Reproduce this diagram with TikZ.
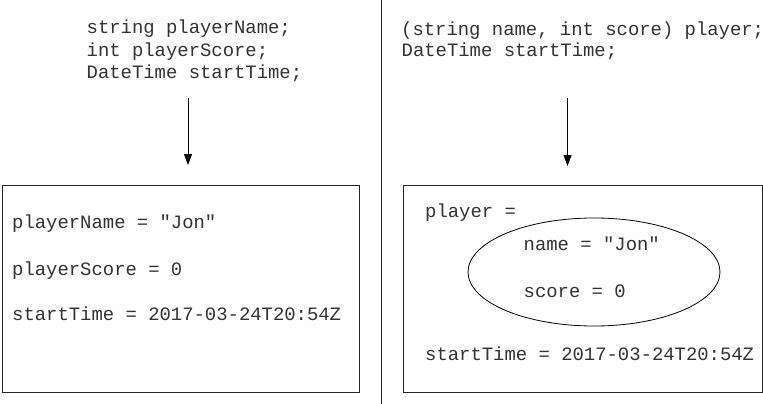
\documentclass[tikz,border=0pt]{standalone}
\usepackage{fontspec}
\setmonofont{Liberation Mono}
\usetikzlibrary{arrows.meta}
\tikzset{
  code/.style={font=\ttfamily\fontsize{18.9}{22}\selectfont, inner sep=0pt, anchor=base west, text=black!80},
  framebox/.style={draw=black!85, line width=0.9pt, inner sep=0pt},
  flow/.style={draw=black, line width=0.9pt, -{Triangle[length=11pt,width=8pt]}},
}
\begin{document}
\begin{tikzpicture}[x=1pt,y=-1pt]
\useasboundingbox (0,0) rectangle (763,404);
\fill[white] (0,0) rectangle (763,404);
% divider
\coordinate (dtop) at (381.5,0);
\coordinate (dbot) at (381.5,404);
\draw[black!85, line width=0.9pt] (dtop) -- (dbot);
% left declarations
\node[code] (l1) at (86.5,34) {string playerName;};
\node[code] (l2) at (86.5,56.5) {int playerScore;};
\node[code] (l3) at (86.5,78.5) {DateTime startTime;};
% right declarations
\node[code] (r1) at (401,35.5) {(string name, int score) player;};
\node[code] (r2) at (401.5,57) {DateTime startTime;};
% arrows
\coordinate (la) at (188,98);
\coordinate (lb) at (188,165);
\coordinate (ra) at (567.5,98);
\coordinate (rb) at (567.5,166);
\draw[flow] (la) -- (lb);
\draw[flow] (ra) -- (rb);
% boxes
\node[framebox, minimum width=357pt, minimum height=207pt] (lbox) at (180.5,288.5) {};
\node[framebox, minimum width=359pt, minimum height=207pt] (rbox) at (582.5,288.5) {};
% left box content
\node[code] (lv1) at (12,228) {playerName = "Jon"};
\node[code] (lv2) at (12,275) {playerScore = 0};
\node[code] (lv3) at (12,320) {startTime = 2017-03-24T20:54Z};
% right box content
\node[code] (rv1) at (425,217.5) {player =};
\draw[black, line width=0.8pt] (594,272) ellipse [x radius=126, y radius=54];
\node[code] (rv2) at (523.5,250) {name = "Jon"};
\node[code] (rv3) at (523.5,297.5) {score = 0};
\node[code] (rv4) at (425,360) {startTime = 2017-03-24T20:54Z};
\end{tikzpicture}
\end{document}
